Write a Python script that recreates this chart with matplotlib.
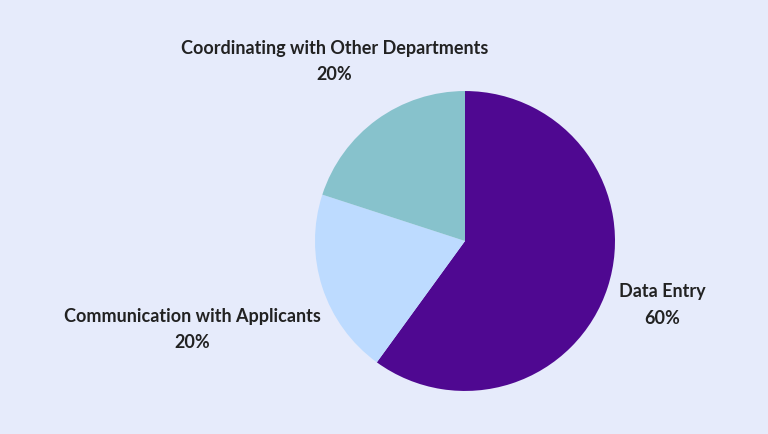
import numpy as np
import matplotlib.pyplot as plt

labels = ["Data Entry", "Communication with Applicants", "Coordinating with Other Departments"]
values = [60, 20, 20]
colors = ["#4F0891", "#BDDBFF", "#87C2CC"]

plt.rcParams['font.family'] = ['Lato', 'DejaVu Sans']

fig = plt.figure(figsize=(7.68, 4.34), dpi=100)
fig.patch.set_facecolor("#E6EBFB")
ax = fig.add_axes([0, 0, 1, 1])
ax.set_facecolor("#E6EBFB")

wedges, _ = ax.pie(values, colors=colors, startangle=90, counterclock=False,
                   radius=1.0, center=(0, 0))
ax.set_xlim(-3.1, 2.02)
ax.set_ylim(-1.287, 1.607)
ax.set_aspect("auto")
ax.axis("off")

# label distance per slice (radius = 1)
dists = [1.38, 1.91, 1.48]
total = sum(values)
for w, lab, v, d in zip(wedges, labels, values, dists):
    ang = np.deg2rad((w.theta1 + w.theta2) / 2)
    ax.text(d * np.cos(ang), d * np.sin(ang), f"{lab}\n{v / total * 100:.0f}%",
            ha="center", va="center", fontsize=13, fontweight="bold",
            color="#222222", linespacing=1.7)

fig.savefig("out.png", dpi=100, facecolor=fig.get_facecolor())
